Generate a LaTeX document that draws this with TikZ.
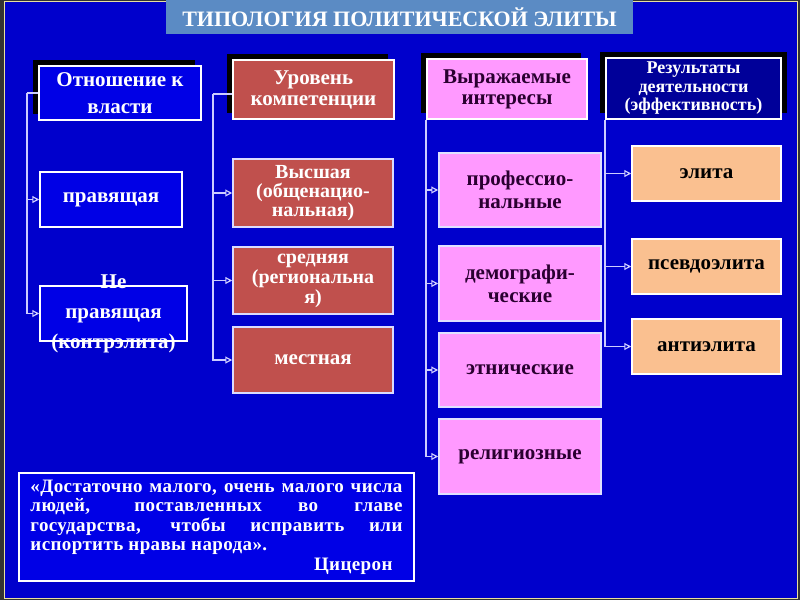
\documentclass[tikz,border=0pt]{standalone}
\usepackage{fontspec}
\setmainfont{Liberation Serif}
\usepackage{tikz}
\usetikzlibrary{arrows.meta, positioning, shadows}
\definecolor{bgblue}{HTML}{0000CC}
\definecolor{frameyel}{HTML}{E8E0A0}
\definecolor{titleblue}{HTML}{5B8BC4}
\definecolor{boxblue}{HTML}{0000E6}
\definecolor{deepblue}{HTML}{000099}
\definecolor{brick}{HTML}{C0504D}
\definecolor{orchid}{HTML}{FF99FF}
\definecolor{peach}{HTML}{FAC090}
\definecolor{lav}{HTML}{CCCCFF}
\definecolor{plumtext}{HTML}{2A0030}

\begin{document}
\begin{tikzpicture}[x=1pt, y=-1pt,
    every node/.style={inner sep=0pt, align=center},
    txt/.style={font=\bfseries\fontsize{21}{21}\selectfont},
    hdr/.style={txt, draw=white, line width=2.2pt,
      drop shadow={shadow xshift=-6pt, shadow yshift=6pt,
        opacity=1, fill=black}},
    item/.style={txt, line width=1.5pt},
    trunk/.style={draw=lav, line width=1.8pt},
    conn/.style={trunk, -{Triangle[open, length=7pt, width=7pt, line width=1.2pt]}}
  ]
  \useasboundingbox (0,0) rectangle (800,600);
  \fill[black!80] (0,0) rectangle (800,600);
  \fill[bgblue] (4,1) rectangle (797,598);
  \draw[frameyel, line width=1pt] (4.5,598) -- (4.5,1.5) -- (797,1.5) -- (797,598) -- cycle;

  \node[fill=titleblue, minimum width=467, minimum height=34,
    text=white, font=\bfseries\fontsize{22}{22}\selectfont]
    (title) at (399.5,17) {ТИПОЛОГИЯ ПОЛИТИЧЕСКОЙ ЭЛИТЫ};

  \node[hdr, fill=boxblue, text=white, minimum width=162, minimum height=54,
    font=\bfseries\fontsize{21}{27}\selectfont]
    (power) at (120,93) {Отношение к\\власти};
  \node[hdr, fill=brick, text=white, minimum width=161, minimum height=59]
    (level) at (313.5,89.5) {Уровень\\компетенции};
  \node[hdr, fill=orchid, text=plumtext, minimum width=160, minimum height=60]
    (interest) at (507,89) {Выражаемые\\интересы};
  \node[hdr, fill=deepblue, text=white, minimum width=175, minimum height=61,
    drop shadow={shadow xshift=6pt, shadow yshift=6pt, opacity=1, fill=black},
    font=\bfseries\fontsize{18}{18.5}\selectfont]
    (result) at (693.5,88.5) {Результаты\\деятельности\\(эффективность)};

  \node[item, draw=white, fill=boxblue, text=white, minimum width=142, minimum height=55]
    (ruling) at (111,199.5) {правящая};
  \node[item, draw=white, fill=boxblue, minimum width=147, minimum height=55]
    (nonruling) at (113.5,313.5) {};
  \node[text=white, font=\bfseries\fontsize{21}{30}\selectfont]
    (nonrulingtxt) at (nonruling) {Не\\правящая\\(контрэлита)};

  \node[item, draw=lav!70!white, fill=brick, text=white, minimum width=160, minimum height=68,
    font=\bfseries\fontsize{20}{19}\selectfont]
    (top) at (313,193) {Высшая\\(общенацио-\\нальная)};
  \node[item, draw=lav!70!white, fill=brick, text=white, minimum width=160, minimum height=67,
    font=\bfseries\fontsize{20}{20}\selectfont]
    (middle) at (313,280.5) {средняя\\(региональна\\я)};
  \node[item, draw=lav!70!white, fill=brick, text=white, minimum width=160, minimum height=66]
    (local) at (313,360) {местная};

  \node[item, draw=lav!60!white, fill=orchid, text=plumtext, minimum width=162, minimum height=74,
    font=\bfseries\fontsize{21}{23}\selectfont]
    (prof) at (520,190) {профессио-\\нальные};
  \node[item, draw=lav!60!white, fill=orchid, text=plumtext, minimum width=162, minimum height=75,
    font=\bfseries\fontsize{21}{23}\selectfont]
    (demo) at (520,283.5) {демографи-\\ческие};
  \node[item, draw=lav!60!white, fill=orchid, text=plumtext, minimum width=162, minimum height=74]
    (ethnic) at (520,370) {этнические};
  \node[item, draw=lav!60!white, fill=orchid, text=plumtext, minimum width=162, minimum height=75]
    (relig) at (520,456.5) {религиозные};

  \node[item, draw=white, fill=peach, text=black, minimum width=149, minimum height=55]
    (elite) at (706.5,173.5) {элита};
  \node[item, draw=white, fill=peach, text=black, minimum width=149, minimum height=55]
    (pseudo) at (706.5,266.5) {псевдоэлита};
  \node[item, draw=white, fill=peach, text=black, minimum width=149, minimum height=55]
    (anti) at (706.5,346.5) {антиэлита};

  \node[draw=white, line width=2pt, fill=boxblue, minimum width=395, minimum height=108]
    (quotebox) at (216.5,527) {};
  \node[text=white, text width=372, align=justify,
    font=\bfseries\fontsize{19}{19.5}\selectfont\addfontfeature{LetterSpace=2}]
    (quote) at (quotebox) {«Достаточно малого, очень малого числа\linebreak
    людей, поставленных во главе\linebreak
    государства, чтобы исправить или\linebreak
    испортить нравы народа».\\
    \hspace*{\fill}Цицерон\hspace*{10pt}};

  \coordinate (t1) at (27,93);
  \draw[trunk] (power.west) -- (t1);
  \draw[conn] (t1) |- (ruling.west);
  \draw[conn] (t1) |- (nonruling.west);

  \coordinate (t2) at (213,94);
  \draw[trunk] (level.west |- t2) -- (t2);
  \draw[conn] (t2) |- (top.west);
  \draw[conn] (t2) |- (middle.west);
  \draw[conn] (t2) |- (local.west);

  \draw[conn] (interest.south west) |- (prof.west);
  \draw[conn] (interest.south west) |- (demo.west);
  \draw[conn] (interest.south west) |- (ethnic.west);
  \draw[conn] (interest.south west) |- (relig.west);

  \draw[conn] (result.south west) |- (elite.west);
  \draw[conn] (result.south west) |- (pseudo.west);
  \draw[conn] (result.south west) |- (anti.west);
\end{tikzpicture}
\end{document}
